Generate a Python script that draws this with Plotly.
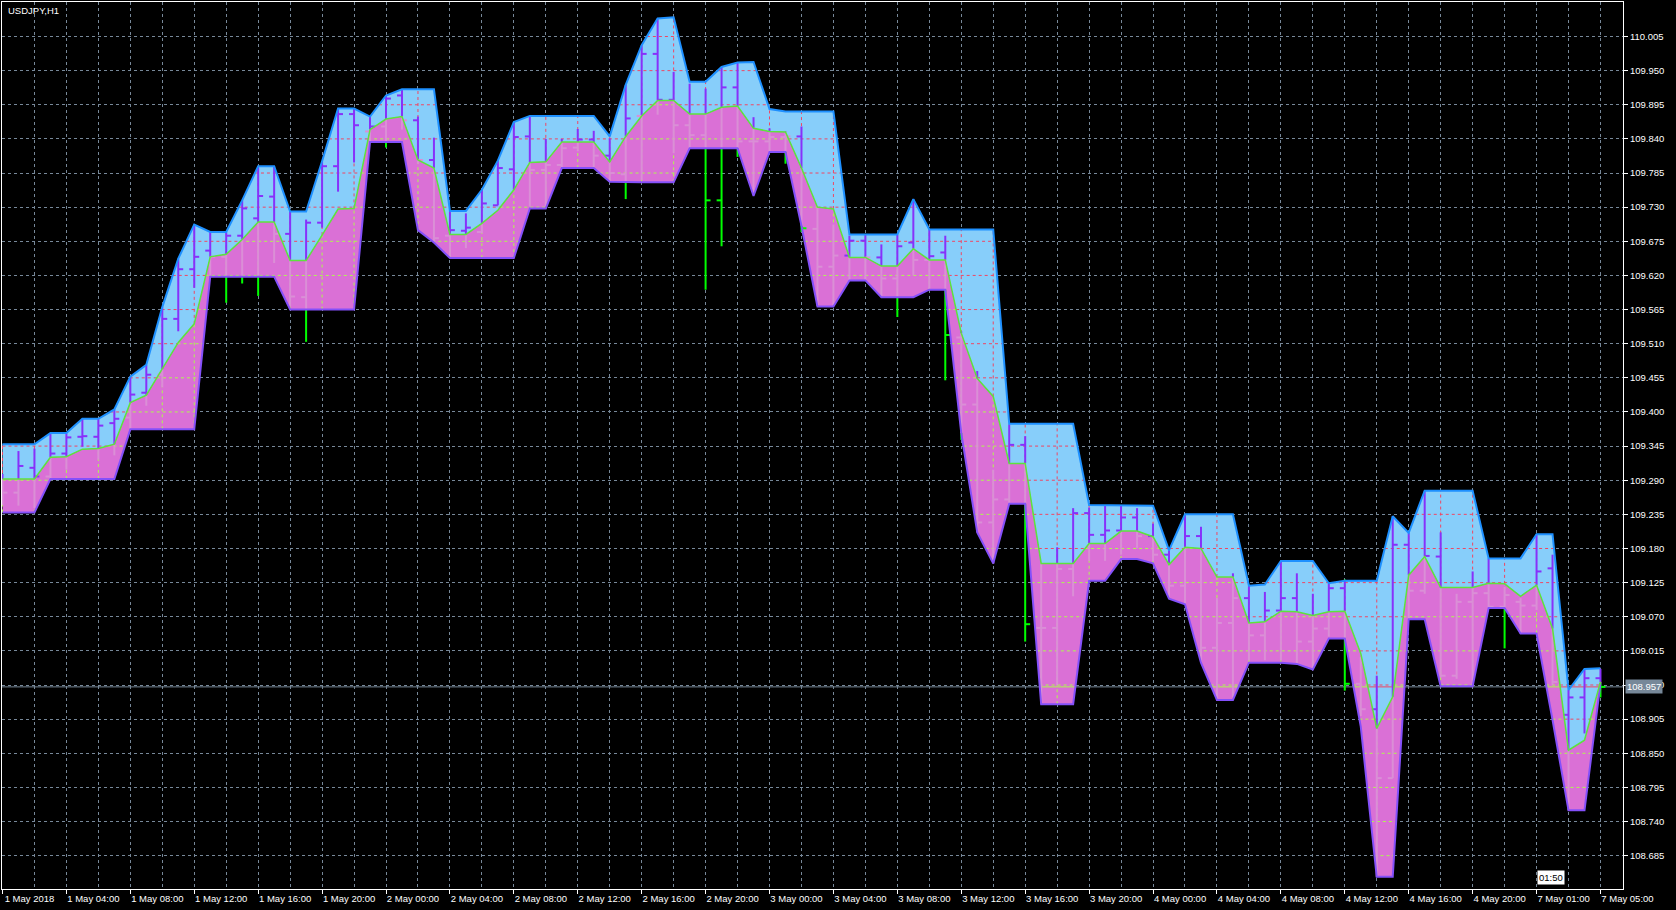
import plotly.graph_objects as go

# ---------------- data ----------------
bar_index = list(range(101))

upper_band = [109.348, 109.348, 109.348, 109.366, 109.366, 109.389, 109.389, 109.404, 109.457, 109.476,
              109.569, 109.647, 109.702, 109.690, 109.690, 109.741, 109.796, 109.796, 109.723, 109.723,
              109.804, 109.889, 109.889, 109.876, 109.910, 109.920, 109.920, 109.920, 109.724, 109.724,
              109.758, 109.805, 109.867, 109.877, 109.877, 109.877, 109.877, 109.877, 109.844, 109.927,
              109.991, 110.034, 110.036, 109.932, 109.932, 109.956, 109.963, 109.964, 109.888, 109.884,
              109.884, 109.884, 109.884, 109.686, 109.686, 109.686, 109.686, 109.743, 109.694, 109.694,
              109.694, 109.694, 109.694, 109.381, 109.381, 109.381, 109.381, 109.381, 109.250, 109.250,
              109.249, 109.249, 109.249, 109.177, 109.235, 109.235, 109.235, 109.235, 109.120, 109.122,
              109.160, 109.160, 109.160, 109.124, 109.128, 109.128, 109.128, 109.232, 109.205, 109.273,
              109.273, 109.273, 109.273, 109.164, 109.164, 109.164, 109.203, 109.203, 108.952, 108.986,
              108.987]

middle_line = [109.292, 109.292, 109.292, 109.327, 109.328, 109.340, 109.341, 109.348, 109.415, 109.427,
               109.469, 109.512, 109.542, 109.650, 109.654, 109.678, 109.706, 109.706, 109.644, 109.644,
               109.685, 109.727, 109.728, 109.855, 109.872, 109.876, 109.806, 109.793, 109.686, 109.686,
               109.704, 109.725, 109.758, 109.802, 109.803, 109.835, 109.835, 109.835, 109.803, 109.844,
               109.877, 109.902, 109.902, 109.880, 109.880, 109.891, 109.893, 109.857, 109.852, 109.851,
               109.793, 109.730, 109.727, 109.649, 109.649, 109.635, 109.635, 109.663, 109.645, 109.645,
               109.527, 109.454, 109.425, 109.317, 109.317, 109.156, 109.156, 109.156, 109.188, 109.188,
               109.208, 109.208, 109.199, 109.154, 109.182, 109.180, 109.134, 109.134, 109.060, 109.062,
               109.079, 109.078, 109.072, 109.078, 109.079, 109.011, 108.890, 108.941, 109.137, 109.167,
               109.117, 109.117, 109.117, 109.124, 109.123, 109.103, 109.121, 109.051, 108.855, 108.871,
               108.965]

lower_band = [109.238, 109.238, 109.238, 109.292, 109.292, 109.292, 109.292, 109.292, 109.372, 109.372,
              109.372, 109.372, 109.372, 109.618, 109.618, 109.618, 109.618, 109.618, 109.565, 109.565,
              109.565, 109.565, 109.565, 109.835, 109.835, 109.835, 109.693, 109.673, 109.648, 109.648,
              109.648, 109.648, 109.648, 109.728, 109.728, 109.793, 109.793, 109.793, 109.771, 109.770,
              109.770, 109.770, 109.770, 109.825, 109.825, 109.825, 109.825, 109.748, 109.819, 109.819,
              109.700, 109.570, 109.570, 109.612, 109.612, 109.585, 109.585, 109.585, 109.597, 109.597,
              109.366, 109.206, 109.156, 109.252, 109.252, 108.929, 108.929, 108.929, 109.128, 109.128,
              109.163, 109.163, 109.156, 109.099, 109.090, 108.996, 108.936, 108.936, 108.996, 108.996,
              108.996, 108.994, 108.985, 109.035, 109.035, 108.893, 108.651, 108.651, 109.066, 109.066,
              108.958, 108.958, 108.958, 109.084, 109.084, 109.043, 109.043, 108.904, 108.758, 108.758,
              108.963]

bar_open = [109.280, 109.270, 109.310, 109.296, 109.333, 109.360, 109.360, 109.382, 109.391, 109.431,
            109.460, 109.550, 109.630, 109.660, 109.650, 109.684, 109.712, 109.747, 109.687, 109.585,
            109.705, 109.796, 109.880, 109.852, 109.860, 109.910, 109.870, 109.806, 109.684, 109.692,
            109.690, 109.733, 109.791, 109.844, 109.790, 109.798, 109.826, 109.839, 109.813, 109.783,
            109.877, 109.977, 109.903, 109.862, 109.846, 109.741, 109.923, 109.836, 109.836, 109.843,
            109.844, 109.695, 109.634, 109.652, 109.676, 109.649, 109.615, 109.673, 109.645, 109.657,
            109.520, 109.412, 109.222, 109.259, 109.347, 109.052, 109.052, 109.147, 109.237, 109.202,
            109.209, 109.230, 109.200, 109.170, 109.120, 109.200, 109.020, 109.060, 109.100, 109.040,
            109.080, 109.100, 109.030, 109.051, 109.116, 108.962, 108.921, 108.810, 109.186, 109.112,
            109.167, 108.975, 109.094, 109.108, 109.086, 109.094, 109.088, 109.148, 108.912, 108.940,
            108.971]

bar_high = [109.300, 109.337, 109.341, 109.366, 109.366, 109.389, 109.389, 109.404, 109.457, 109.476,
            109.569, 109.647, 109.702, 109.690, 109.690, 109.741, 109.796, 109.796, 109.723, 109.710,
            109.804, 109.889, 109.889, 109.876, 109.910, 109.920, 109.876, 109.842, 109.724, 109.720,
            109.758, 109.805, 109.867, 109.877, 109.840, 109.840, 109.856, 109.853, 109.841, 109.927,
            109.991, 110.034, 109.948, 109.929, 109.921, 109.956, 109.963, 109.875, 109.857, 109.852,
            109.860, 109.729, 109.702, 109.684, 109.686, 109.670, 109.686, 109.743, 109.694, 109.684,
            109.530, 109.466, 109.307, 109.380, 109.361, 109.156, 109.182, 109.245, 109.246, 109.250,
            109.249, 109.245, 109.220, 109.177, 109.235, 109.215, 109.100, 109.140, 109.120, 109.110,
            109.160, 109.140, 109.107, 109.124, 109.130, 109.005, 108.975, 109.232, 109.205, 109.273,
            109.206, 109.107, 109.143, 109.164, 109.118, 109.100, 109.203, 109.170, 108.952, 108.986,
            108.986]

bar_low = [109.250, 109.249, 109.245, 109.292, 109.307, 109.344, 109.323, 109.330, 109.372, 109.410,
           109.440, 109.530, 109.600, 109.619, 109.576, 109.607, 109.587, 109.640, 109.570, 109.513,
           109.697, 109.755, 109.802, 109.835, 109.826, 109.855, 109.800, 109.673, 109.650, 109.664,
           109.688, 109.733, 109.758, 109.731, 109.731, 109.793, 109.820, 109.794, 109.771, 109.743,
           109.774, 109.879, 109.817, 109.825, 109.597, 109.667, 109.811, 109.752, 109.820, 109.800,
           109.690, 109.571, 109.571, 109.612, 109.612, 109.585, 109.553, 109.620, 109.597, 109.451,
           109.355, 109.206, 109.156, 109.253, 109.030, 108.930, 108.960, 109.103, 109.160, 109.160,
           109.170, 109.180, 109.160, 109.100, 109.090, 108.996, 108.936, 108.940, 109.000, 109.000,
           109.000, 108.994, 108.987, 109.038, 108.951, 108.910, 108.651, 108.810, 109.066, 109.107,
           108.972, 108.970, 108.960, 109.084, 109.019, 109.043, 109.081, 108.960, 108.758, 108.882,
           108.940]

bar_close = [109.270, 109.313, 109.296, 109.333, 109.359, 109.361, 109.378, 109.389, 109.428, 109.460,
             109.550, 109.630, 109.650, 109.650, 109.684, 109.728, 109.748, 109.687, 109.586, 109.705,
             109.796, 109.880, 109.862, 109.860, 109.905, 109.870, 109.806, 109.680, 109.693, 109.697,
             109.736, 109.793, 109.843, 109.790, 109.798, 109.825, 109.839, 109.813, 109.785, 109.873,
             109.977, 109.903, 109.862, 109.846, 109.741, 109.923, 109.836, 109.836, 109.843, 109.844,
             109.696, 109.634, 109.652, 109.676, 109.649, 109.615, 109.667, 109.645, 109.651, 109.524,
             109.412, 109.222, 109.259, 109.347, 109.058, 109.052, 109.147, 109.237, 109.202, 109.209,
             109.230, 109.200, 109.170, 109.120, 109.200, 109.020, 109.060, 109.100, 109.040, 109.080,
             109.100, 109.030, 109.051, 109.116, 108.962, 108.921, 108.810, 109.186, 109.112, 109.168,
             108.975, 109.094, 109.108, 109.086, 109.105, 109.088, 109.143, 108.965, 108.940, 108.971,
             108.957]

x_tick_bars = list(range(0, 101, 4))
x_tick_labels = ["1 May 2018", "1 May 04:00", "1 May 08:00", "1 May 12:00", "1 May 16:00", "1 May 20:00",
                 "2 May 00:00", "2 May 04:00", "2 May 08:00", "2 May 12:00", "2 May 16:00", "2 May 20:00",
                 "3 May 00:00", "3 May 04:00", "3 May 08:00", "3 May 12:00", "3 May 16:00", "3 May 20:00",
                 "4 May 00:00", "4 May 04:00", "4 May 08:00", "4 May 12:00", "4 May 16:00", "4 May 20:00",
                 "7 May 01:00", "7 May 05:00"]
y_tick_values = [round(108.685 + 0.055 * k, 3) for k in range(25)]
y_tick_labels = ["%.3f" % v for v in y_tick_values]
last_price = 108.957
symbol_title = "USDJPY,H1"
timer_text = "01:50"

# ---------------- styles ----------------
BG = "black"
GRID = "#778899"
SKY = "#87CEFA"
ORCHID = "#DA70D6"
GRID_IN_SKY = "#F04663"
GRID_IN_ORCHID = "#ADF84F"
BAR_OUT = "#00FF00"
BAR_IN_SKY = "#8731FA"
BAR_IN_ORCHID = "#DA8FD6"
FONT = "Liberation Sans, Arial, sans-serif"
n = len(bar_index)


def zone(p, i):
    """0 outside, 1 inside sky band (mid..upper), 2 inside orchid band (lower..mid)."""
    if middle_line[i] < p <= upper_band[i]:
        return 1
    if lower_band[i] <= p <= middle_line[i]:
        return 2
    return 0


def horizontal_pieces(p):
    pieces = []
    for i in range(n - 1):
        u0, u1 = upper_band[i], upper_band[i + 1]
        m0, m1 = middle_line[i], middle_line[i + 1]
        l0, l1 = lower_band[i], lower_band[i + 1]
        ts = [0.0, 1.0]
        for a, b in ((u0, u1), (m0, m1), (l0, l1)):
            if (a - p) * (b - p) < 0:
                ts.append((p - a) / (b - a))
        ts.sort()
        for t0, t1 in zip(ts[:-1], ts[1:]):
            if t1 - t0 < 1e-9:
                continue
            tm = (t0 + t1) / 2
            u = u0 + (u1 - u0) * tm
            m = m0 + (m1 - m0) * tm
            lo = l0 + (l1 - l0) * tm
            c = 1 if m < p < u else (2 if lo < p < m else 0)
            if c:
                if pieces and pieces[-1][2] == c and abs(pieces[-1][1] - (i + t0)) < 1e-9:
                    pieces[-1][1] = i + t1
                else:
                    pieces.append([i + t0, i + t1, c])
    return pieces


fig = go.Figure()

# band fills
fig.add_trace(go.Scatter(x=bar_index, y=middle_line, mode="lines", line=dict(width=0, color="rgba(0,0,0,0)"),
                         hoverinfo="skip", showlegend=False))
fig.add_trace(go.Scatter(x=bar_index, y=upper_band, mode="lines", line=dict(width=0, color="rgba(0,0,0,0)"),
                         fill="tonexty", fillcolor=SKY, hoverinfo="skip", showlegend=False))
fig.add_trace(go.Scatter(x=bar_index, y=lower_band, mode="lines", line=dict(width=0, color="rgba(0,0,0,0)"),
                         hoverinfo="skip", showlegend=False))
fig.add_trace(go.Scatter(x=bar_index, y=middle_line, mode="lines", line=dict(width=0, color="rgba(0,0,0,0)"),
                         fill="tonexty", fillcolor=ORCHID, hoverinfo="skip", showlegend=False))

# grid (and price line) seen through the bands
gx = {1: [], 2: []}
gy = {1: [], 2: []}
for v in y_tick_values:
    for a, b, c in horizontal_pieces(v):
        gx[c] += [a, b, None]
        gy[c] += [v, v, None]
for i in range(0, n, 2):
    gx[1] += [i, i, None]
    gy[1] += [middle_line[i], upper_band[i], None]
    gx[2] += [i, i, None]
    gy[2] += [lower_band[i], middle_line[i], None]
for c, col in ((1, GRID_IN_SKY), (2, GRID_IN_ORCHID)):
    fig.add_trace(go.Scatter(x=gx[c], y=gy[c], mode="lines", line=dict(color=col, width=1, dash="3px,3px"),
                             hoverinfo="skip", showlegend=False))

px_ = {0: [], 1: [], 2: []}
py_ = {0: [], 1: [], 2: []}
for a, b, c in horizontal_pieces(last_price):
    px_[c] += [a, b, None]
    py_[c] += [last_price, last_price, None]
for c, col in ((1, GRID_IN_SKY), (2, GRID_IN_ORCHID)):
    fig.add_trace(go.Scatter(x=px_[c], y=py_[c], mode="lines", line=dict(color=col, width=1),
                             hoverinfo="skip", showlegend=False))

# OHLC bars (colour depends on the band underneath)
bx = {0: [], 1: [], 2: []}
by = {0: [], 1: [], 2: []}
for i in range(n):
    cuts = sorted(set([bar_low[i], bar_high[i]] +
                      [v for v in (lower_band[i], middle_line[i], upper_band[i]) if bar_low[i] < v < bar_high[i]]))
    for a, b in zip(cuts[:-1], cuts[1:]):
        c = zone((a + b) / 2, i)
        bx[c] += [i, i, None]
        by[c] += [a, b, None]
    c = zone(bar_open[i], i)
    bx[c] += [i - 0.31, i, None]
    by[c] += [bar_open[i], bar_open[i], None]
    c = zone(bar_close[i], i)
    bx[c] += [i, i + 0.31, None]
    by[c] += [bar_close[i], bar_close[i], None]
for c, col in ((0, BAR_OUT), (1, BAR_IN_SKY), (2, BAR_IN_ORCHID)):
    fig.add_trace(go.Scatter(x=bx[c], y=by[c], mode="lines", line=dict(color=col, width=2),
                             hoverinfo="skip", showlegend=False))

# band border lines
fig.add_trace(go.Scatter(x=bar_index, y=upper_band, mode="lines", line=dict(color="#1E90FF", width=2),
                         hoverinfo="skip", showlegend=False))
fig.add_trace(go.Scatter(x=bar_index, y=lower_band, mode="lines", line=dict(color="#8450FA", width=2),
                         hoverinfo="skip", showlegend=False))
fig.add_trace(go.Scatter(x=bar_index, y=middle_line, mode="lines", line=dict(color="#5DE33D", width=1.5),
                         hoverinfo="skip", showlegend=False))

# price line (outside the bands; inside them the coloured pieces above are shown)
fig.add_shape(type="line", xref="paper", x0=0, x1=1, yref="y", y0=last_price, y1=last_price,
              line=dict(color=GRID, width=1), layer="below")

fig.update_layout(
    width=1676, height=910,
    margin=dict(l=2, r=53, t=2, b=21),
    paper_bgcolor=BG, plot_bgcolor=BG,
    showlegend=False,
    font=dict(family=FONT, size=9, color="white"),
    xaxis=dict(
        range=[-0.03, 101.41], showline=True, linecolor="white", linewidth=1, mirror=True,
        tickmode="array", tickvals=x_tick_bars, ticktext=x_tick_labels,
        ticks="outside", ticklen=4, tickcolor="white", tickwidth=1,
        tickfont=dict(family=FONT, size=9.5, color="white"), ticklabelshift=27, ticklabelstandoff=-3,
        showgrid=True, gridcolor=GRID, gridwidth=1, griddash="3px,3px",
        minor=dict(tickmode="array", tickvals=list(range(0, 101, 2)), showgrid=True, gridcolor=GRID,
                   gridwidth=1, griddash="3px,3px", ticks=""),
        zeroline=False, automargin=False, fixedrange=True,
    ),
    yaxis=dict(
        range=[108.6313, 110.0606], side="right", showline=True, linecolor="white", linewidth=1, mirror=True,
        tickmode="array", tickvals=y_tick_values, ticktext=y_tick_labels,
        ticks="outside", ticklen=4, tickcolor="white", tickwidth=1,
        tickfont=dict(family=FONT, size=9.5, color="white"),
        showgrid=True, gridcolor=GRID, gridwidth=1, griddash="3px,3px",
        zeroline=False, automargin=False, fixedrange=True,
    ),
    annotations=[
        dict(text=symbol_title, xref="paper", yref="paper", x=0, y=1, xanchor="left", yanchor="top",
             xshift=4, yshift=-1, showarrow=False, font=dict(family=FONT, size=9.5, color="white")),
        dict(text="%.3f" % last_price, xref="paper", yref="y", x=1, y=last_price, xanchor="left",
             yanchor="middle", xshift=2, showarrow=False, bgcolor=GRID, borderpad=1,
             font=dict(family=FONT, size=9.5, color="white")),
        dict(text=timer_text, xref="x", yref="paper", x=96, y=0, xanchor="left", yanchor="bottom",
             xshift=0, yshift=4, showarrow=False, bgcolor="white", borderpad=1,
             font=dict(family=FONT, size=9.5, color="black")),
    ],
)

fig.write_html("out.html", config={"displayModeBar": False},
               post_script="document.body.style.margin='0px';document.body.style.overflow='hidden';")
